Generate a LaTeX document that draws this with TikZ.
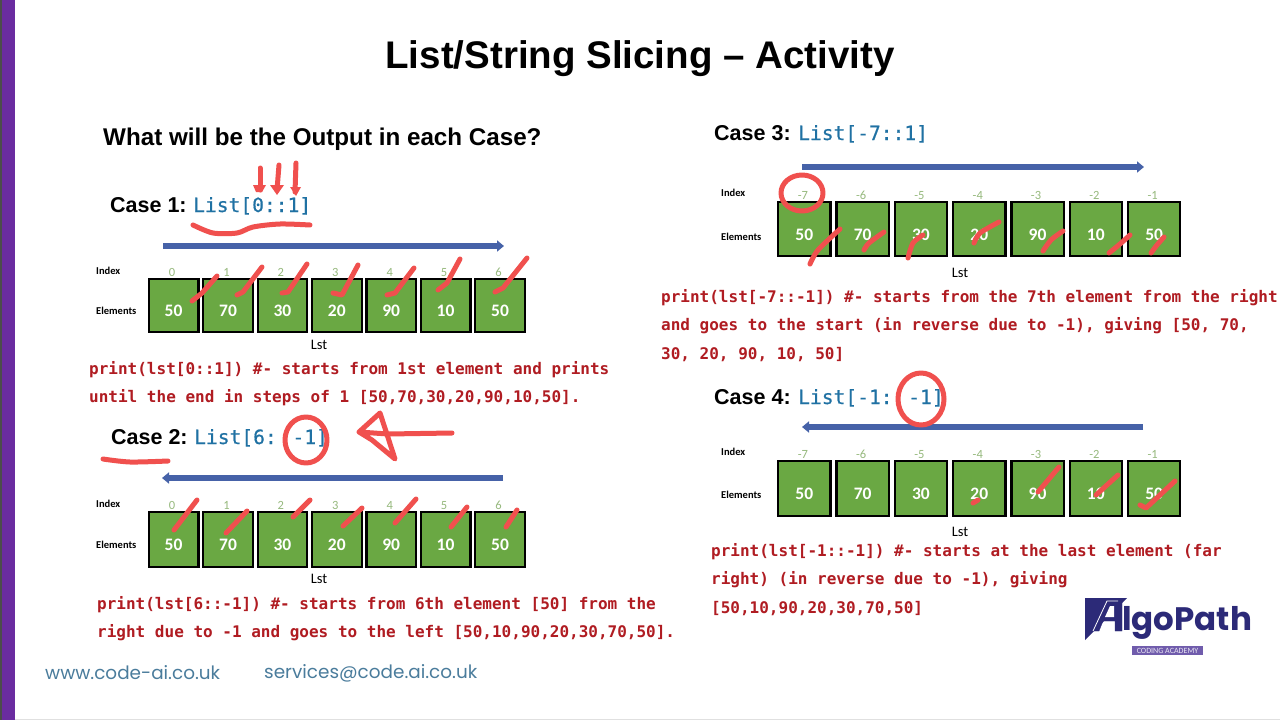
\documentclass[tikz,border=0pt]{standalone}
\usepackage{fontspec}
\setmainfont{Liberation Sans}
\newfontfamily\codefont{DejaVu Sans Mono}
\newfontfamily\listfont[FakeBold=0.6]{DejaVu Sans Mono}
\newfontfamily\cellfont{Carlito}
\newfontfamily\webfont{Poppins}
\definecolor{barpurple}{RGB}{106, 44, 160}
\definecolor{cellgreen}{RGB}{106, 168, 67}
\definecolor{idxgreen}{RGB}{150, 185, 125}
\definecolor{dirblue}{RGB}{70, 98, 168}
\definecolor{codeblue}{RGB}{31, 113, 163}
\definecolor{notered}{RGB}{176, 28, 34}
\definecolor{penred}{RGB}{240, 80, 78}
\definecolor{webteal}{RGB}{74, 124, 156}
\definecolor{logonavy}{RGB}{44, 42, 120}
\definecolor{logopurple}{RGB}{112, 92, 172}
\usetikzlibrary{arrows.meta, positioning}

% one row of cells: left x, top y, prefix, cell width, pitch, height, index list
\newcommand{\listrow}[7]{
  \foreach \idx/\val [count=\k from 0] in {#7} {
    \node[cell, minimum width=#4pt, minimum height=#6pt] (#3\k)
      at ({#1+#4/2+\k*#5}, {#2+#6/2}) {\raisebox{-11pt}[0pt][0pt]{\val}};
    \node[idx, above=0pt of #3\k, xshift=-1.5pt] (#3i\k) {\idx};
  }
}

\begin{document}
\begin{tikzpicture}[x=1pt, y=-1pt,
  cell/.style={draw=black, line width=2.2pt, fill=cellgreen, text=white, font=\cellfont\bfseries\fontsize{17.5}{18}\selectfont, inner sep=0pt},
  idx/.style={text=idxgreen, font=\cellfont\fontsize{12.5}{13}\selectfont, inner sep=1pt},
  side/.style={font=\cellfont\bfseries\fontsize{10.5}{11}\selectfont, anchor=west, inner sep=0pt},
  lstname/.style={font=\cellfont\fontsize{14.5}{15}\selectfont, inner sep=0pt},
  casename/.style={font=\bfseries\fontsize{21.5}{24}\selectfont, anchor=base west, inner sep=0pt},
  code/.style={text=codeblue, font=\listfont\fontsize{19.6}{24}\selectfont, anchor=base west, inner sep=0pt},
  note/.style={font=\codefont\bfseries\fontsize{16}{28.6}\selectfont, text=notered, anchor=north west, align=left, inner sep=0pt},
  dir/.style={-{Stealth[length=7pt, width=11pt, inset=0pt]}, dirblue, line width=6pt},
  pen/.style={penred, line width=5pt, line cap=round, line join=round},
  web/.style={font=\webfont\fontsize{18.4}{20}\selectfont, text=webteal, inner sep=0pt},
]
\useasboundingbox (0, 0) rectangle (1280, 720);
\fill[white] (0, 0) rectangle (1280, 720);
\fill[barpurple] (2, 0) rectangle (15, 720);
\fill[black!70] (0, 0) rectangle (2, 720);
\fill[black!12] (15, 718.5) rectangle (1280, 720);

% Titles
\node[font=\bfseries\fontsize{38.5}{44}\selectfont, inner sep=0pt] (title) at (640, 59) {List/String Slicing -- Activity};
\node[font=\bfseries\fontsize{24.2}{28}\selectfont, anchor=west, inner sep=0pt] (ask) at (103, 139) {What will be the Output in each Case?};

% Case 1
\node[casename] (caseA) at (110, 212) {Case 1:};
\node[code] (codeA) at (193, 212) {List[0::1]};
\coordinate (dirAs) at (163, 246);
\coordinate (dirAe) at (504, 246);
\draw[dir] (dirAs) -- (dirAe);
\listrow{148.8}{278.7}{a}{49.6}{54.4}{53.6}{0/50, 1/70, 2/30, 3/20, 4/90, 5/10, 6/50}
\node[side] (idxA) at (96, 271) {Index};
\node[side] (elemA) at (96, 311) {Elements};
\node[lstname] (lstA) at (319, 345) {Lst};
\node[note] (noteA) at (89, 361) {print(lst[0::1]) \#- starts from 1st element and prints\\until the end in steps of 1 [50,70,30,20,90,10,50].};

% Case 2
\node[casename] (caseB) at (111, 444) {Case 2:};
\node[code] (codeB) at (194, 444) {List[6: -1]};
\coordinate (dirBs) at (503, 478);
\coordinate (dirBe) at (162, 478);
\draw[dir] (dirBs) -- (dirBe);
\listrow{148.8}{511.7}{b}{49.6}{54.4}{55.6}{0/50, 1/70, 2/30, 3/20, 4/90, 5/10, 6/50}
\node[side] (idxB) at (96, 504) {Index};
\node[side] (elemB) at (96, 545) {Elements};
\node[lstname] (lstB) at (319, 579) {Lst};
\node[note] (noteB) at (97, 596) {print(lst[6::-1]) \#- starts from 6th element [50] from the\\right due to -1 and goes to the left [50,10,90,20,30,70,50].};

% Case 3
\node[casename] (caseC) at (714, 140) {Case 3:};
\node[code] (codeC) at (798, 140) {List[-7::1]};
\coordinate (dirCs) at (802, 167);
\coordinate (dirCe) at (1144, 167);
\draw[dir] (dirCs) -- (dirCe);
\listrow{778.2}{201.7}{c}{52.3}{58.3}{54.6}{-7/50, -6/70, -5/30, -4/20, -3/90, -2/10, -1/50}
\node[side] (idxC) at (721, 193) {Index};
\node[side] (elemC) at (721, 237) {Elements};
\node[lstname] (lstC) at (960, 273) {Lst};
\node[note] (noteC) at (661, 289) {print(lst[-7::-1]) \#- starts from the 7th element from the right\\and goes to the start (in reverse due to -1), giving [50, 70,\\30, 20, 90, 10, 50]};

% Case 4
\node[casename] (caseD) at (714, 404) {Case 4:};
\node[code] (codeD) at (798, 404) {List[-1: -1]};
\coordinate (dirDs) at (1143, 427);
\coordinate (dirDe) at (802, 427);
\draw[dir] (dirDs) -- (dirDe);
\listrow{778.2}{460.7}{d}{52.3}{58.3}{55.6}{-7/50, -6/70, -5/30, -4/20, -3/90, -2/10, -1/50}
\node[side] (idxD) at (721, 452) {Index};
\node[side] (elemD) at (721, 495) {Elements};
\node[lstname] (lstD) at (960, 532) {Lst};
\node[note] (noteD) at (711, 543) {print(lst[-1::-1]) \#- starts at the last element (far\\right) (in reverse due to -1), giving\\{[50,10,90,20,30,70,50]}};

% Footer
\node[web, anchor=west] (site) at (45, 673) {www.code-ai.co.uk};
\node[web, anchor=west] (mail) at (264, 673) {services@code.ai.co.uk};

% Logo
\fill[logonavy] (1085, 598) -- (1127, 598) -- (1085, 640) -- cycle;
\draw[logonavy, fill=logonavy, line width=0.3pt] (1093, 631) -- (1107, 601) -- (1122, 601) -- (1122, 631) -- (1115, 631) -- (1115, 621) -- (1103, 621) -- (1099, 631) -- cycle;
\draw[white, line width=0.8pt] (1093, 631) -- (1107, 601) -- (1118, 601);
\fill[white] (1105, 617) -- (1110, 606) -- (1114, 606) -- (1114, 617) -- cycle;
\node[font=\webfont\bfseries\fontsize{32.5}{40}\selectfont, text=logonavy, anchor=base west, inner sep=0pt] (logo) at (1122, 630) {lgoPath};
\node[fill=logopurple, text=white!85!logopurple, font=\cellfont\fontsize{8}{9}\selectfont, minimum width=71pt, minimum height=9pt, inner sep=0pt] (academy) at (1167.5, 650.5) {CODING ACADEMY};

% Pen marks, case 1
\draw[pen] (260, 168) -- (260, 190);
\fill[penred] (253, 185) -- (266, 185) -- (262, 192) -- (256, 192) -- cycle;
\draw[pen] (279, 165) -- (277, 190);
\fill[penred] (270, 185) -- (284, 185) -- (277, 195) -- cycle;
\draw[pen] (296, 163) -- (295, 192);
\fill[penred] (290, 187) -- (301, 187) -- (296, 196) -- cycle;
\draw[pen] plot[smooth] coordinates {(193, 225) (213, 233) (237, 233) (253, 227) (280, 224) (310, 225)};
\foreach \ax/\ay/\bx/\by/\cx/\cy in {192/301/202/293/217/276, 237/295/243/292/262/267, 282/293/288/292/307/264,
  333/293/342/295/358/265, 387/295/395/293/414/268, 438/290/447/283/460/259, 495/292/503/288/527/258}
  \draw[pen] (\ax, \ay) -- (\bx, \by) -- (\cx, \cy);

% Pen marks, case 2
\draw[pen] plot[smooth] coordinates {(103, 459) (130, 462) (168, 461)};
\draw[pen] (306, 440) ellipse (21 and 23);
\draw[pen] (452, 433) -- (388, 434) -- (359, 432) -- (380, 413) -- (395, 459) -- (372, 440) -- (359, 432);
\foreach \ax/\ay/\bx/\by in {174/530/197/500, 226/533/247/511, 293/517/310/500, 343/526/362/508,
  395/523/416/499, 451/527/467/507, 506/527/517/510}
  \draw[pen] (\ax, \ay) -- (\bx, \by);

% Pen marks, case 3
\draw[pen] (802, 193) ellipse (21 and 18);
\foreach \ax/\ay/\bx/\by/\cx/\cy in {810/264/818/250/840/229, 864/250/869/243/884/232, 908/258/913/243/923/235,
  974/243/980/233/999/222, 1043/251/1051/240/1063/231, 1109/253/1120/244/1130/235, 1151/253/1157/245/1164/237}
  \draw[pen] plot[smooth] coordinates {(\ax, \ay) (\bx, \by) (\cx, \cy)};

% Pen marks, case 4
\draw[pen] (921, 399) ellipse (23 and 26);
\draw[pen] (973, 503) -- (978, 500);
\draw[pen] (1038, 492) -- (1059, 467);
\draw[pen] (1096, 495) -- (1118, 475);
\draw[pen] (1140, 505) -- (1146, 508) -- (1175, 481);
\end{tikzpicture}
\end{document}
